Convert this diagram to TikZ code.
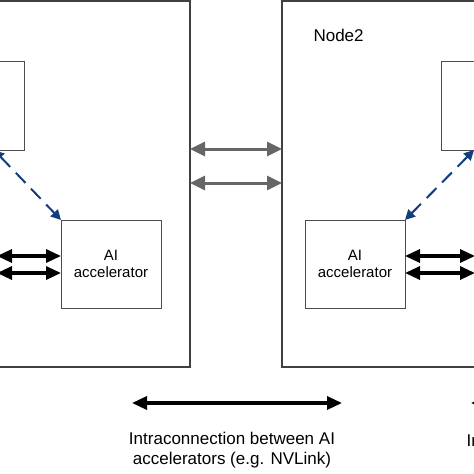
\documentclass[tikz,border=0pt]{standalone}
\usepackage{fontspec}
\setmainfont{Liberation Sans}
\usetikzlibrary{positioning, arrows.meta, calc}
\definecolor{linkblue}{RGB}{18,62,128}

\begin{document}
\begin{tikzpicture}[x=1pt, y=-1pt,
    frame/.style={draw=black!75, line width=1.2pt, inner sep=0pt, outer sep=0pt},
    part/.style={draw=black!70, line width=1pt, inner sep=0pt, outer sep=0pt},
    accel/.style={part, minimum width=100pt, minimum height=88pt, align=center, font=\fontsize{15}{17}\selectfont},
    hostlink/.style={{Triangle[length=15pt,width=14pt]}-{Triangle[length=15pt,width=14pt]}, line width=3pt, black!60},
    devlink/.style={{Triangle[length=15pt,width=13pt]}-{Triangle[length=15pt,width=13pt]}, line width=3.2pt, black},
    buslink/.style={{Triangle[length=10pt,width=10pt]}-{Triangle[length=10pt,width=10pt]}, line width=2pt, linkblue, dash pattern=on 14pt off 8pt},
    caption/.style={align=center, font=\fontsize{17}{20}\selectfont}]
    \useasboundingbox (0,0) rectangle (474,474);
    \clip (0,0) rectangle (474,474);

    % the two nodes
    \node[frame, minimum width=390pt, minimum height=366pt] (nodeL) at (-5,184) {};
    \node[frame, minimum width=398pt, minimum height=366pt] (nodeR) at (481,184) {};
    \node[caption, anchor=west] (nodeRname) at (310,35) {Node2};

    % host parts and accelerators
    \node[part, minimum width=104pt, minimum height=89pt] (hostL) at (-28,105.5) {};
    \node[part, minimum width=119pt, minimum height=89pt] (hostR) at (500.5,105.5) {};
    \node[accel] (aiL) at (111,264) {AI\\accelerator};
    \node[accel] (aiR) at (355,264) {AI\\accelerator};

    % links between the nodes
    \foreach \dy in {-148,-182}
        \draw[hostlink] ([yshift=\dy pt]nodeL.north east) -- ([yshift=\dy pt]nodeR.north west);

    % links of the accelerators
    \foreach \dy in {8,-9} {
        \draw[devlink] ([xshift=-64pt, yshift=\dy pt]aiL.west) -- ([yshift=\dy pt]aiL.west);
        \draw[devlink] ([yshift=\dy pt]aiR.east) -- ([xshift=70pt, yshift=\dy pt]aiR.east);
    }
    \draw[buslink] ([xshift=-30pt]hostL.south east) -- (aiL.north west);
    \draw[buslink] ([xshift=33pt]hostR.south west) -- (aiR.north east);

    % legend
    \coordinate (intraA) at (132,403);
    \coordinate (intraB) at (342,403);
    \draw[devlink] (intraA) -- (intraB);
    \node[caption] (intraText) at (232,450) {Intraconnection between AI\\accelerators (e.g. NVLink)};
    \coordinate (interA) at (471,403);
    \coordinate (interB) at (690,403);
    \draw[devlink] (interA) -- (interB);
    \node[caption, anchor=west] (interText) at (463,440) {Interconnection};
\end{tikzpicture}
\end{document}
